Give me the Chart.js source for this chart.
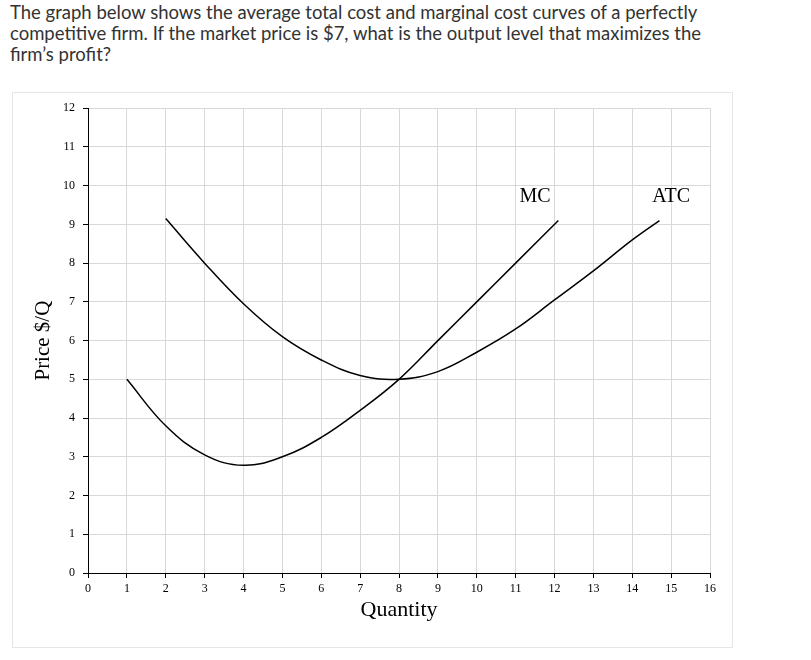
<!DOCTYPE html>
<html>
<head>
<meta charset="utf-8">
<script src="https://cdn.jsdelivr.net/npm/chart.js@4"></script>
<style>
  body { margin: 0; background: #fff; }
  #q { position: absolute; left: 10px; top: 2px; width: 700px; font-family: Lato, sans-serif; font-size: 18.5px; line-height: 21px; color: #333; }
  #box { position: absolute; left: 12px; top: 92px; width: 721px; height: 556px; border: 1px solid #e6e6e6; box-sizing: border-box; }
</style>
</head>
<body>
<div id="q">The graph below shows the average total cost and marginal cost curves of a perfectly competitive firm. If the market price is $7, what is the output level that maximizes the firm’s profit?</div>
<div id="box"><canvas id="c"></canvas></div>
<script>
// curve points (quantity, price)
const mcQ = [1, 2, 3, 4, 5, 6, 7, 8, 9, 10, 11, 12.1];
const mcP = [5, 3.8, 3.05, 2.78, 3.0, 3.5, 4.2, 5, 6, 7, 8, 9.1];
const atcQ = [2, 3, 4, 5, 6, 7, 8, 9, 10, 11, 12, 13, 14, 14.7];
const atcP = [9.15, 8.0, 6.95, 6.1, 5.5, 5.1, 5, 5.2, 5.7, 6.3, 7.05, 7.8, 8.6, 9.1];
const curveLabels = [
  { text: 'MC', q: 11.5, p: 9.72 },
  { text: 'ATC', q: 15.0, p: 9.72 }
];

const toPts = (xs, ys) => xs.map((x, i) => ({ x: x, y: ys[i] }));

const labelPlugin = {
  id: 'curveLabels',
  afterDatasetsDraw(chart) {
    const { ctx, scales } = chart;
    ctx.save();
    ctx.font = '20px "Liberation Serif", serif';
    ctx.fillStyle = '#000';
    ctx.textAlign = 'center';
    ctx.textBaseline = 'middle';
    curveLabels.forEach(l => ctx.fillText(l.text, scales.x.getPixelForValue(l.q), scales.y.getPixelForValue(l.p)));
    ctx.restore();
  }
};

const tickFont = { family: '"Liberation Serif", serif', size: 12 };

new Chart(document.getElementById('c'), {
  type: 'scatter',
  data: {
    datasets: [
      { label: 'MC', data: toPts(mcQ, mcP), showLine: true, borderColor: '#000', borderWidth: 1.5, pointRadius: 0, tension: 0.4 },
      { label: 'ATC', data: toPts(atcQ, atcP), showLine: true, borderColor: '#000', borderWidth: 1.5, pointRadius: 0, tension: 0.4 }
    ]
  },
  options: {
    responsive: true,
    maintainAspectRatio: false,
    animation: false,
    layout: { padding: { top: 14, right: 22, left: 14, bottom: 20 } },
    plugins: { legend: { display: false }, tooltip: { enabled: false } },
    scales: {
      x: {
        type: 'linear', min: 0, max: 16,
        ticks: { stepSize: 1, color: '#000', font: tickFont, padding: 4 },
        grid: { color: '#d9d9d9', tickColor: '#000', tickLength: 5 },
        border: { color: '#000', width: 1 },
        title: { display: true, text: 'Quantity', color: '#000', font: { family: '"Liberation Serif", serif', size: 22 }, padding: { top: 4 } },
        afterFit(a) { a.height = 54; }
      },
      y: {
        min: 0, max: 12,
        ticks: { stepSize: 1, color: '#000', font: tickFont, padding: 8 },
        grid: { color: '#d9d9d9', tickColor: '#000', tickLength: 5 },
        border: { color: '#000', width: 1 },
        title: { display: true, text: 'Price $/Q', color: '#000', font: { family: '"Liberation Serif", serif', size: 21 }, padding: { bottom: 10 } },
        afterFit(a) { a.width = 61; }
      }
    }
  },
  plugins: [labelPlugin]
});
</script>
</body>
</html>
